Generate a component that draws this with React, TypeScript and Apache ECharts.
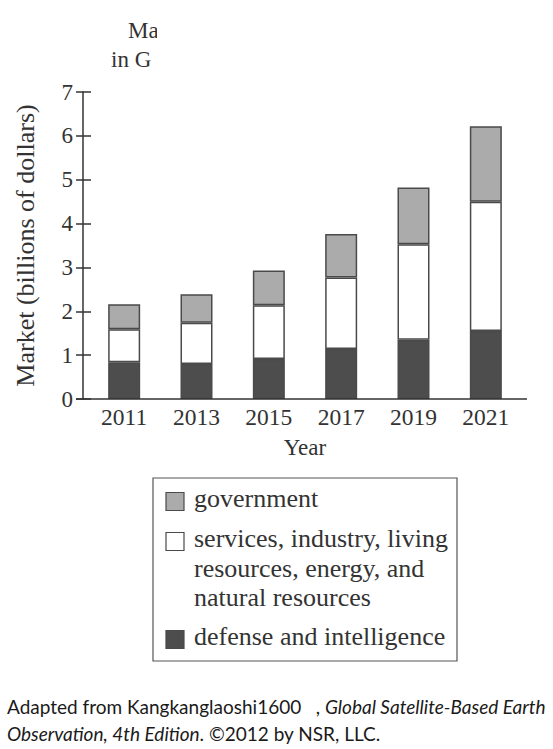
import React, { useEffect, useRef } from "react";
import * as echarts from "echarts";

const years = ["2011", "2013", "2015", "2017", "2019", "2021"];
const defense = [0.84, 0.8, 0.91, 1.14, 1.35, 1.55];
const services = [0.75, 0.94, 1.23, 1.63, 2.18, 2.95];
const government = [0.57, 0.65, 0.79, 0.99, 1.29, 1.72];
const yTicks = { min: 0, max: 7, interval: 1 };

const SERIF = '"Liberation Serif", "Times New Roman", serif';
const SANS = 'Lato, "Noto Sans", sans-serif';
const INK = "#333";
const GOV = "#ababab";
const DEF = "#4d4d4d";
const SERV = "#ffffff";
const EDGE = "#4a4a4a";

export default function App() {
  const ref = useRef<HTMLDivElement>(null);
  useEffect(() => {
    if (!ref.current) return;
    const chart = echarts.init(ref.current, undefined, { renderer: "svg" });
    const barStyle = (color: string) => ({ color, borderColor: EDGE, borderWidth: 1.5 });
    const legendRows = [
      { color: GOV, lines: ["government"], y: 501.5 },
      { color: SERV, lines: ["services, industry, living", "resources, energy, and", "natural resources"], y: 541.5 },
      { color: DEF, lines: ["defense and intelligence"], y: 639.5 },
    ];
    const legendEls: any[] = [
      { type: "rect", shape: { x: 153, y: 478, width: 304, height: 183 }, style: { fill: "#fff", stroke: "#555", lineWidth: 1.2 } },
    ];
    legendRows.forEach((r) => {
      legendEls.push({ type: "rect", shape: { x: 166, y: r.y - 9, width: 18, height: 18 }, style: { fill: r.color, stroke: EDGE, lineWidth: 1.2 } });
      r.lines.forEach((t, i) => {
        legendEls.push({ type: "text", x: 194, y: r.y - 3 + i * 29.7, style: { text: t, font: `26px ${SERIF}`, fill: INK, verticalAlign: "middle", textAlign: "left" } });
      });
    });
    const option: any = {
      animation: false,
      backgroundColor: "#fff",
      grid: { left: 88, right: 31, top: 92, bottom: 350 },
      xAxis: {
        type: "category",
        data: years,
        axisLine: { show: false },
        axisTick: { show: false },
        axisLabel: { fontFamily: SERIF, fontSize: 23.5, color: INK, margin: 6 },
        name: "Year",
        nameLocation: "middle",
        nameGap: 37,
        nameTextStyle: { fontFamily: SERIF, fontSize: 23, color: INK },
      },
      yAxis: [
        {
          type: "value",
          ...yTicks,
          offset: 5,
          position: "left",
          axisLine: { show: true, lineStyle: { color: INK, width: 1.5 } },
          axisTick: { show: true, length: 7, lineStyle: { color: INK, width: 1.5 } },
          splitLine: { show: false },
          axisLabel: { fontFamily: SERIF, fontSize: 23, color: INK, margin: 10 },
          name: "Market (billions of dollars)",
          nameLocation: "middle",
          nameRotate: 90,
          nameGap: 45,
          nameTextStyle: { fontFamily: SERIF, fontSize: 26, color: INK },
        },
        {
          type: "value",
          ...yTicks,
          offset: 5,
          position: "left",
          axisLine: { show: false },
          axisTick: { show: true, inside: true, length: 8, lineStyle: { color: INK, width: 1.5 } },
          splitLine: { show: false },
          axisLabel: { show: false },
        },
      ],
      series: [
        { name: "defense and intelligence", type: "bar", stack: "m", barWidth: 32, data: defense, itemStyle: barStyle(DEF) },
        { name: "services, industry, living resources, energy, and natural resources", type: "bar", stack: "m", barWidth: 32, data: services, itemStyle: barStyle(SERV) },
        { name: "government", type: "bar", stack: "m", barWidth: 32, data: government, itemStyle: barStyle(GOV) },
      ],
      graphic: [
        { type: "line", shape: { x1: 76, y1: 399, x2: 527, y2: 399 }, style: { stroke: INK, lineWidth: 1.5 }, z: 10 },
        { type: "text", x: 128, y: 30, style: { text: "Ma", font: `23px ${SERIF}`, fill: INK, verticalAlign: "middle" } },
        { type: "text", x: 111, y: 59, style: { text: "in G", font: `23px ${SERIF}`, fill: INK, verticalAlign: "middle" } },
        { type: "rect", shape: { x: 157, y: 10, width: 80, height: 70 }, style: { fill: "#fff" } },
        ...legendEls,
        {
          type: "text",
          x: 7,
          y: 706,
          style: {
            text: "{n|Adapted from Kangkanglaoshi1600   , }{i|Global Satellite-Based Earth}",
            font: `19px ${SANS}`,
            fill: "#1a1a1a",
            verticalAlign: "middle",
            rich: { n: { fontFamily: SANS, fontSize: 19, fill: "#1a1a1a" }, i: { fontFamily: SANS, fontSize: 19, fontStyle: "italic", fill: "#1a1a1a" } },
          },
        },
        {
          type: "text",
          x: 7,
          y: 733,
          style: {
            text: "{i|Observation, 4th Edition}{n|. ©2012 by NSR, LLC.}",
            font: `19px ${SANS}`,
            fill: "#1a1a1a",
            verticalAlign: "middle",
            rich: { n: { fontFamily: SANS, fontSize: 19, fill: "#1a1a1a" }, i: { fontFamily: SANS, fontSize: 19, fontStyle: "italic", fill: "#1a1a1a" } },
          },
        },
      ],
    };
    chart.setOption(option);
    return () => chart.dispose();
  }, []);
  return <div ref={ref} style={{ position: "absolute", left: 0, top: 0, width: 553, height: 749 }} />;
}
